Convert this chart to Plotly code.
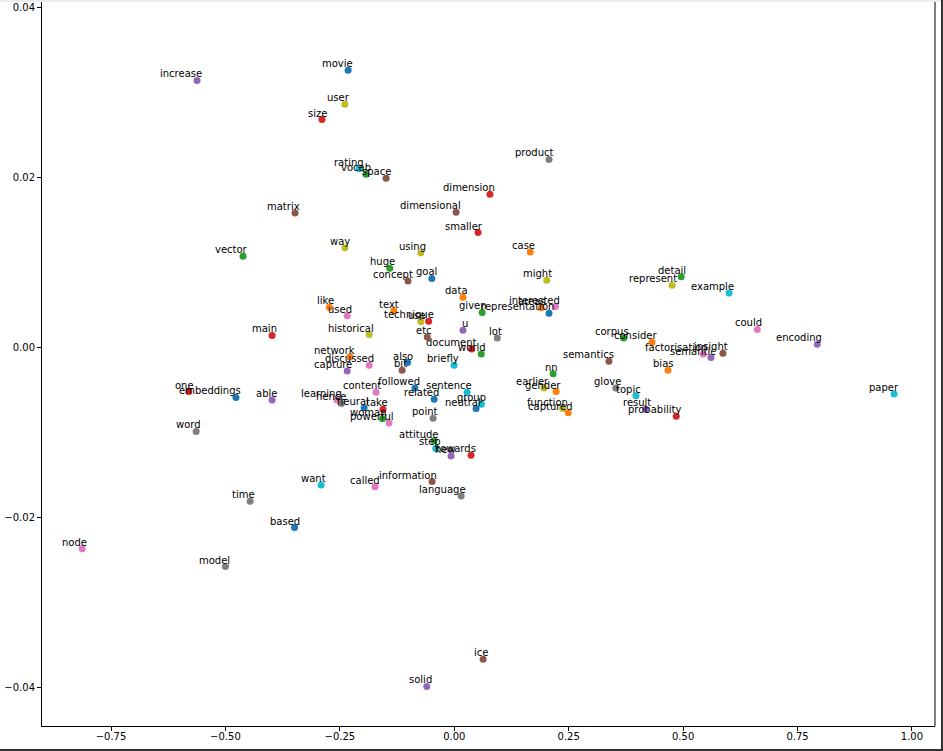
import plotly.graph_objects as go

# ---- data ----
words = [
    "increase", "matrix", "movie", "user", "size", "rating", "vocab", "space",
    "product", "dimension", "dimensional", "smaller", "way", "using", "case",
    "huge", "concept", "goal", "might", "data", "like", "used", "text", "use",
    "technique", "given", "interested", "areas", "representation", "u", "lot",
    "historical", "etc", "document", "world", "network", "discussed", "capture",
    "also", "bit", "briefly", "semantics", "nn", "earlier", "gender", "glove",
    "followed", "content", "sentence", "related", "learning", "hence", "neural",
    "take", "woman", "powerful", "group", "neutral", "point", "attitude", "step",
    "new", "towards", "function", "captured", "want", "called", "information",
    "language", "detail", "represent", "example", "could", "encoding", "corpus",
    "consider", "factorisation", "semantic", "insight", "bias", "topic", "result",
    "probability", "paper", "vector", "main", "one", "embeddings", "able", "word",
    "time", "based", "node", "model", "ice", "solid",
]
x_vals = [
    -0.562, -0.348, -0.232, -0.239, -0.289, -0.208, -0.193, -0.149,
    0.207, 0.078, 0.004, 0.052, -0.239, -0.073, 0.166,
    -0.141, -0.101, -0.049, 0.202, 0.019, -0.273, -0.234, -0.132, -0.073,
    -0.056, 0.061, 0.221, 0.190, 0.207, 0.019, 0.094,
    -0.186, -0.059, 0.038, 0.059, -0.228, -0.186, -0.234,
    -0.102, -0.114, -0.0004, 0.338, 0.216, 0.196, 0.2225, 0.353,
    -0.086, -0.171, 0.028, -0.044, -0.256, -0.2465, -0.197,
    -0.1556, -0.157, -0.1425, 0.0594, 0.0477, -0.0463, -0.0441, -0.0404,
    -0.007, 0.0367, 0.237, 0.249, -0.291, -0.173, -0.0485,
    0.015, 0.496, 0.476, 0.6005, 0.662, 0.793, 0.370,
    0.432, 0.544, 0.561, 0.587, 0.467, 0.397, 0.418,
    0.485, 0.961, -0.4615, -0.398, -0.580, -0.477, -0.398, -0.564,
    -0.446, -0.349, -0.813, -0.500, 0.063, -0.060,
]
y_vals = [
    0.0314, 0.0158, 0.0326, 0.0286, 0.0268, 0.0210, 0.02035, 0.0199,
    0.0221, 0.0180, 0.0159, 0.0135, 0.0117, 0.0111, 0.0112,
    0.0093, 0.0078, 0.0081, 0.0079, 0.0059, 0.0047, 0.0037, 0.0043, 0.0030,
    0.00306, 0.0041, 0.0048, 0.00466, 0.0040, 0.0020, 0.0011,
    0.0015, 0.0012, -0.0002, -0.0008, -0.0011, -0.0021, -0.0028,
    -0.0018, -0.0027, -0.0021, -0.00165, -0.0031, -0.0048, -0.0052, -0.0048,
    -0.0048, -0.0053, -0.0053, -0.0061, -0.0062, -0.0066, -0.0071,
    -0.0073, -0.0084, -0.0089, -0.0067, -0.0072, -0.00835, -0.0110, -0.0119,
    -0.0128, -0.0127, -0.0072, -0.0077, -0.0162, -0.0164, -0.0158,
    -0.0175, 0.0083, 0.0073, 0.0064, 0.0021, 0.00035, 0.0011,
    0.0006, -0.0008, -0.0012, -0.0007, -0.0027, -0.0057, -0.0073,
    -0.0081, -0.0055, 0.0107, 0.0014, -0.0052, -0.0059, -0.0062, -0.0099,
    -0.0181, -0.0212, -0.0237, -0.0258, -0.0367, -0.0399,
]
# tab10 colour name of each point
color_names = [
    "purple", "brown", "blue", "olive", "red", "cyan", "green", "brown",
    "gray", "red", "brown", "red", "olive", "olive", "orange",
    "green", "brown", "blue", "olive", "orange", "orange", "pink", "orange", "olive",
    "red", "green", "pink", "orange", "blue", "purple", "gray",
    "olive", "brown", "red", "green", "orange", "pink", "purple",
    "blue", "brown", "cyan", "brown", "green", "olive", "orange", "gray",
    "blue", "pink", "cyan", "blue", "pink", "gray", "blue",
    "red", "green", "pink", "cyan", "blue", "gray", "green", "cyan",
    "purple", "red", "olive", "orange", "cyan", "pink", "brown",
    "gray", "green", "olive", "cyan", "pink", "purple", "green",
    "orange", "pink", "purple", "brown", "orange", "cyan", "purple",
    "red", "cyan", "green", "red", "red", "blue", "purple", "gray",
    "gray", "blue", "pink", "gray", "brown", "purple",
]
x_ticks = [-0.75, -0.50, -0.25, 0.00, 0.25, 0.50, 0.75, 1.00]
y_ticks = [-0.04, -0.02, 0.00, 0.02, 0.04]

TAB10 = {
    "blue": "#1f77b4", "orange": "#ff7f0e", "green": "#2ca02c", "red": "#d62728",
    "purple": "#9467bd", "brown": "#8c564b", "pink": "#e377c2", "gray": "#7f7f7f",
    "olive": "#bcbd22", "cyan": "#17becf",
}
colors = [TAB10[c] for c in color_names]

W, H = 943, 751
ML, MR, MT, MB = 42, 8, 0, 25
PW, PH = W - ML - MR, H - MT - MB

fig = go.Figure()
fig.add_trace(go.Scatter(
    x=x_vals, y=y_vals, mode="markers",
    marker=dict(size=7, color=colors, line=dict(width=0)),
    hoverinfo="text", text=words, showlegend=False,
))

annotations = []
for w, xv, yv in zip(words, x_vals, y_vals):
    annotations.append(dict(
        x=xv, y=yv, xref="x", yref="y", text=w, showarrow=False,
        xanchor="right", yanchor="bottom", xshift=6, yshift=0,
        font=dict(family="DejaVu Sans", size=10, color="#000000"),
        borderpad=0,
    ))

def px_x(p):
    return (p - ML) / PW

def px_y(p):
    return (H - MB - p) / PH

shapes = [
    # right spine
    dict(type="line", xref="paper", yref="paper", x0=1, x1=1, y0=0, y1=1,
         line=dict(color="#000000", width=1)),
    # outer screenshot frame (right and bottom)
    dict(type="line", xref="paper", yref="paper", x0=px_x(942), x1=px_x(942),
         y0=px_y(751), y1=px_y(0), line=dict(color="#333333", width=2)),
    dict(type="line", xref="paper", yref="paper", x0=px_x(0), x1=px_x(943),
         y0=px_y(750), y1=px_y(750), line=dict(color="#333333", width=2)),
    # faint top shadow
    dict(type="rect", xref="paper", yref="paper", x0=px_x(0), x1=px_x(941),
         y0=px_y(2), y1=px_y(0), fillcolor="#ececec", line=dict(width=0)),
]

fig.update_layout(
    width=W, height=H, autosize=False,
    margin=dict(l=ML, r=MR, t=MT, b=MB, pad=0),
    paper_bgcolor="white", plot_bgcolor="white",
    font=dict(family="DejaVu Sans", size=10, color="#000000"),
    annotations=annotations, shapes=shapes,
    xaxis=dict(
        range=[-0.9008, 1.0504], tickvals=x_ticks, tickformat=".2f",
        showgrid=False, zeroline=False, showline=True, linecolor="#000000",
        linewidth=1, ticks="outside", ticklen=4, tickwidth=1, tickcolor="#000000",
        tickfont=dict(family="DejaVu Sans", size=10, color="#000000"),
        automargin=False, ticklabelstandoff=-3,
    ),
    yaxis=dict(
        range=[-0.04455, 0.04086], tickvals=y_ticks, tickformat=".2f",
        showgrid=False, zeroline=False, showline=True, linecolor="#000000",
        linewidth=1, ticks="outside", ticklen=4, tickwidth=1, tickcolor="#000000",
        tickfont=dict(family="DejaVu Sans", size=10, color="#000000"),
        automargin=False,
    ),
)

fig.write_html(
    "out.html",
    config={"displayModeBar": False},
    post_script="document.body.style.margin='0';document.body.style.overflow='hidden';",
)
